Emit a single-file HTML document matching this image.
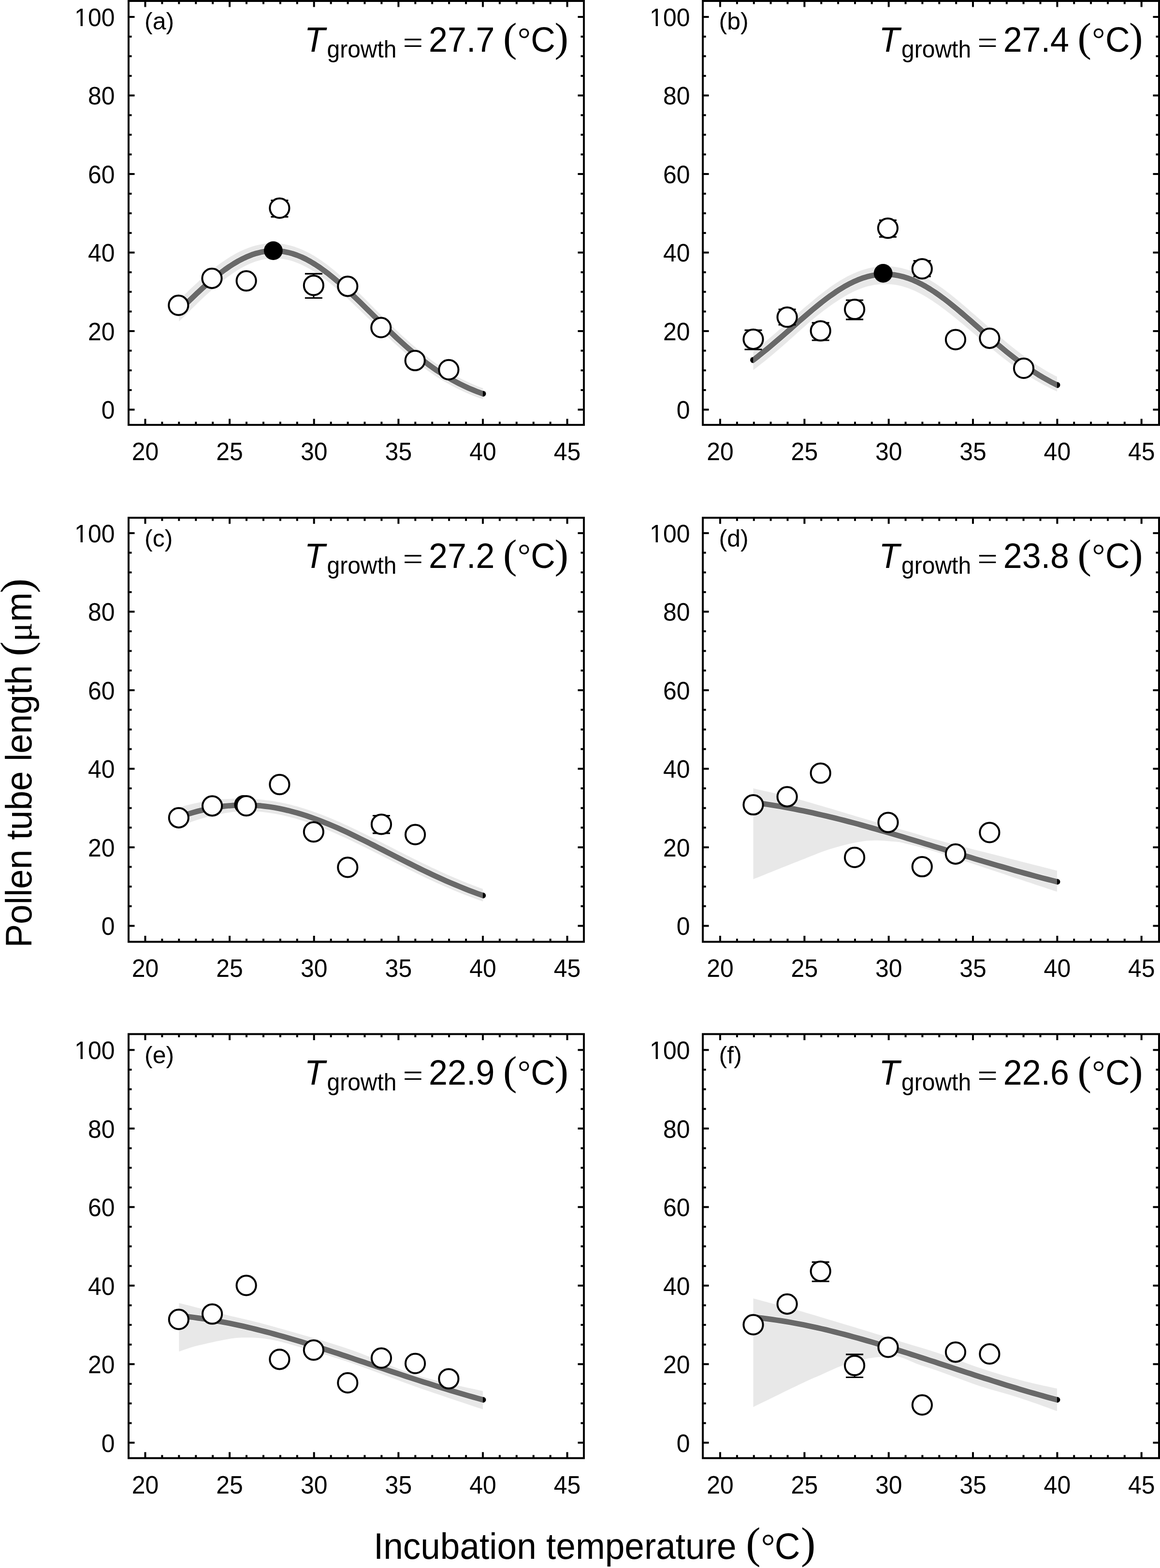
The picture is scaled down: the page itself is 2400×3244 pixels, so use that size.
<!DOCTYPE html><html><head><meta charset="utf-8"><style>html,body{margin:0;padding:0;background:#fff}svg{display:block}</style></head><body><svg width="2400" height="3244" viewBox="0 0 2400 3244">
<style>.t{font-family:&quot;Liberation Sans&quot;,Arial,sans-serif;font-size:50px}.ti{font-family:&quot;Liberation Sans&quot;,Arial,sans-serif;font-size:70px}.sub{font-family:&quot;Liberation Sans&quot;,Arial,sans-serif;font-size:48px}.eq{font-family:&quot;Liberation Serif&quot;,&quot;Times New Roman&quot;,serif;font-size:74px}.par{font-family:&quot;Liberation Serif&quot;,&quot;Times New Roman&quot;,serif;font-size:85.5px}.deg{font-family:&quot;Liberation Serif&quot;,&quot;Times New Roman&quot;,serif;font-size:67px}.ax{font-family:&quot;Liberation Sans&quot;,Arial,sans-serif;font-size:73px}.axp{font-family:&quot;Liberation Serif&quot;,&quot;Times New Roman&quot;,serif;font-size:91px}.axd{font-family:&quot;Liberation Serif&quot;,&quot;Times New Roman&quot;,serif;font-size:72px}.yp{font-family:&quot;Liberation Serif&quot;,&quot;Times New Roman&quot;,serif;font-size:92px}.mu{font-family:&quot;Liberation Serif&quot;,&quot;Times New Roman&quot;,serif;font-size:74px}</style>
<rect width="100%" height="100%" fill="#fff"/>
<path d="M370.3,620.9 L375.6,615.7 L380.9,610.5 L386.1,605.4 L391.4,600.3 L396.7,595.3 L402.0,590.3 L407.3,585.4 L412.6,580.6 L417.8,575.9 L423.1,571.2 L428.4,566.7 L433.7,562.3 L439.0,558.0 L444.3,553.8 L449.5,549.7 L454.8,545.8 L460.1,542.0 L465.4,538.4 L470.7,534.9 L476.0,531.6 L481.2,528.4 L486.5,525.4 L491.8,522.6 L497.1,520.0 L502.4,517.6 L507.7,515.3 L512.9,513.2 L518.2,511.3 L523.5,509.6 L528.8,508.1 L534.1,506.8 L539.4,505.7 L544.6,504.8 L549.9,504.1 L555.2,503.5 L560.5,503.2 L565.8,503.1 L571.1,503.3 L576.3,503.7 L581.6,504.2 L586.9,505.0 L592.2,506.0 L597.5,507.2 L602.8,508.5 L608.0,510.1 L613.3,511.9 L618.6,513.9 L623.9,516.0 L629.2,518.4 L634.5,520.9 L639.7,523.6 L645.0,526.6 L650.3,529.6 L655.6,532.9 L660.9,536.4 L666.2,540.0 L671.4,543.7 L676.7,547.6 L682.0,551.7 L687.3,555.9 L692.6,560.2 L697.9,564.7 L703.1,569.3 L708.4,573.9 L713.7,578.7 L719.0,583.5 L724.3,588.4 L729.6,593.4 L734.8,598.5 L740.1,603.6 L745.4,608.8 L750.7,614.1 L756.0,619.3 L761.3,624.6 L766.5,630.0 L771.8,635.3 L777.1,640.7 L782.4,646.0 L787.7,651.3 L793.0,656.7 L798.2,661.9 L803.5,667.2 L808.8,672.3 L814.1,677.4 L819.4,682.4 L824.7,687.4 L829.9,692.4 L835.2,697.3 L840.5,702.1 L845.8,706.8 L851.1,711.5 L856.4,716.0 L861.6,720.5 L866.9,725.0 L872.2,729.3 L877.5,733.5 L882.8,737.6 L888.1,741.7 L893.3,745.6 L898.6,749.5 L903.9,753.2 L909.2,756.8 L914.5,760.4 L919.8,763.8 L925.0,767.1 L930.3,770.3 L935.6,773.5 L940.9,776.5 L946.2,779.4 L951.5,782.2 L956.7,784.9 L962.0,787.5 L967.3,790.0 L972.6,792.5 L977.9,794.8 L983.2,797.0 L988.4,799.2 L993.7,801.2 L999.0,803.1 L999.0,826.0 L993.7,824.1 L988.4,822.2 L983.2,820.3 L977.9,818.2 L972.6,816.0 L967.3,813.8 L962.0,811.5 L956.7,809.1 L951.5,806.5 L946.2,803.9 L940.9,801.3 L935.6,798.5 L930.3,795.6 L925.0,792.6 L919.8,789.5 L914.5,786.3 L909.2,783.1 L903.9,779.7 L898.6,776.2 L893.3,772.6 L888.1,769.0 L882.8,765.2 L877.5,761.4 L872.2,757.4 L866.9,753.3 L861.6,749.2 L856.4,745.0 L851.1,740.7 L845.8,736.3 L840.5,731.8 L835.2,727.2 L829.9,722.6 L824.7,717.8 L819.4,713.1 L814.1,708.2 L808.8,703.3 L803.5,698.3 L798.2,693.3 L793.0,688.4 L787.7,683.4 L782.4,678.3 L777.1,673.2 L771.8,668.1 L766.5,663.0 L761.3,657.9 L756.0,652.8 L750.7,647.7 L745.4,642.6 L740.1,637.5 L734.8,632.4 L729.6,627.4 L724.3,622.4 L719.0,617.5 L713.7,612.6 L708.4,607.8 L703.1,603.1 L697.9,598.4 L692.6,593.9 L687.3,589.5 L682.0,585.3 L676.7,581.1 L671.4,577.0 L666.2,573.1 L660.9,569.3 L655.6,565.7 L650.3,562.3 L645.0,559.0 L639.7,555.8 L634.5,552.9 L629.2,550.2 L623.9,547.6 L618.6,545.3 L613.3,543.2 L608.0,541.3 L602.8,539.6 L597.5,538.1 L592.2,536.9 L586.9,535.9 L581.6,535.2 L576.3,534.8 L571.1,534.5 L565.8,534.6 L560.5,534.8 L555.2,535.2 L549.9,535.9 L544.6,536.8 L539.4,538.0 L534.1,539.4 L528.8,541.0 L523.5,542.9 L518.2,545.0 L512.9,547.4 L507.7,549.9 L502.4,552.7 L497.1,555.7 L491.8,558.8 L486.5,562.2 L481.2,565.7 L476.0,569.4 L470.7,573.2 L465.4,577.2 L460.1,581.4 L454.8,585.7 L449.5,590.1 L444.3,594.6 L439.0,599.2 L433.7,603.9 L428.4,608.7 L423.1,613.6 L417.8,618.6 L412.6,623.6 L407.3,628.7 L402.0,633.9 L396.7,639.0 L391.4,644.2 L386.1,649.4 L380.9,654.7 L375.6,659.9 L370.3,665.2Z" fill="#e8e8e8"/>
<clipPath id="cpa"><rect x="370.30" y="0" width="628.70" height="3244"/></clipPath>
<g clip-path="url(#cpa)">
<path d="M362.3,650.9 L371.6,641.7 L381.0,632.5 L390.3,623.3 L399.7,614.3 L409.0,605.4 L418.4,596.8 L427.7,588.4 L437.0,580.2 L446.4,572.4 L455.7,565.0 L465.1,558.0 L474.4,551.5 L483.8,545.5 L493.1,540.0 L502.5,535.1 L511.8,530.8 L521.1,527.1 L530.5,524.1 L539.8,521.7 L549.2,520.1 L558.5,519.1 L567.9,518.8 L577.2,519.3 L586.5,520.4 L595.9,522.3 L605.2,524.8 L614.6,528.0 L623.9,531.8 L633.3,536.3 L642.6,541.4 L651.9,547.0 L661.3,553.1 L670.6,559.8 L680.0,566.9 L689.3,574.4 L698.7,582.3 L708.0,590.5 L717.4,599.0 L726.7,607.7 L736.0,616.6 L745.4,625.7 L754.7,634.8 L764.1,644.1 L773.4,653.3 L782.8,662.5 L792.1,671.7 L801.4,680.7 L810.8,689.7 L820.1,698.5 L829.5,707.0 L838.8,715.4 L848.2,723.6 L857.5,731.5 L866.8,739.1 L876.2,746.4 L885.5,753.5 L894.9,760.2 L904.2,766.7 L913.6,772.8 L922.9,778.6 L932.3,784.1 L941.6,789.2 L950.9,794.1 L960.3,798.7 L969.6,803.0 L979.0,806.9 L988.3,810.7 L997.7,814.1 L1007.0,817.3" fill="none" stroke="#fff" stroke-width="13.1" stroke-linejoin="round"/>
<path d="M362.3,650.9 L371.6,641.7 L381.0,632.5 L390.3,623.3 L399.7,614.3 L409.0,605.4 L418.4,596.8 L427.7,588.4 L437.0,580.2 L446.4,572.4 L455.7,565.0 L465.1,558.0 L474.4,551.5 L483.8,545.5 L493.1,540.0 L502.5,535.1 L511.8,530.8 L521.1,527.1 L530.5,524.1 L539.8,521.7 L549.2,520.1 L558.5,519.1 L567.9,518.8 L577.2,519.3 L586.5,520.4 L595.9,522.3 L605.2,524.8 L614.6,528.0 L623.9,531.8 L633.3,536.3 L642.6,541.4 L651.9,547.0 L661.3,553.1 L670.6,559.8 L680.0,566.9 L689.3,574.4 L698.7,582.3 L708.0,590.5 L717.4,599.0 L726.7,607.7 L736.0,616.6 L745.4,625.7 L754.7,634.8 L764.1,644.1 L773.4,653.3 L782.8,662.5 L792.1,671.7 L801.4,680.7 L810.8,689.7 L820.1,698.5 L829.5,707.0 L838.8,715.4 L848.2,723.6 L857.5,731.5 L866.8,739.1 L876.2,746.4 L885.5,753.5 L894.9,760.2 L904.2,766.7 L913.6,772.8 L922.9,778.6 L932.3,784.1 L941.6,789.2 L950.9,794.1 L960.3,798.7 L969.6,803.0 L979.0,806.9 L988.3,810.7 L997.7,814.1 L1007.0,817.3" fill="none" stroke="#696969" stroke-width="11.5" stroke-linejoin="round"/>
</g>
<path d="M370.30,636.72 A6.5,6.30 0 0 0 370.30,649.32 Z" fill="#000"/>
<path d="M999.00,808.48 A6.5,6.09 0 0 1 999.00,820.66 Z" fill="#000"/>
<circle cx="565.4" cy="518.6" r="19.4" fill="#000"/>
<path d="M578.4,414.6 V448.7 M560.4,414.6 H596.4 M560.4,448.7 H596.4" stroke="#000" stroke-width="3.2" fill="none"/>
<path d="M648.9,566.4 V616.5 M630.9,566.4 H666.9 M630.9,616.5 H666.9" stroke="#000" stroke-width="3.2" fill="none"/>
<circle cx="369.3" cy="631.7" r="20.1" fill="#fff" stroke="#000" stroke-width="4"/>
<circle cx="438.5" cy="575.8" r="20.1" fill="#fff" stroke="#000" stroke-width="4"/>
<circle cx="509.6" cy="581.1" r="20.1" fill="#fff" stroke="#000" stroke-width="4"/>
<circle cx="578.4" cy="430.6" r="20.1" fill="#fff" stroke="#000" stroke-width="4"/>
<circle cx="648.9" cy="590.4" r="20.1" fill="#fff" stroke="#000" stroke-width="4"/>
<circle cx="719.3" cy="592.3" r="20.1" fill="#fff" stroke="#000" stroke-width="4"/>
<circle cx="788.3" cy="677.7" r="20.1" fill="#fff" stroke="#000" stroke-width="4"/>
<circle cx="858.7" cy="745.9" r="20.1" fill="#fff" stroke="#000" stroke-width="4"/>
<circle cx="928.4" cy="764.9" r="20.1" fill="#fff" stroke="#000" stroke-width="4"/>
<rect x="266.0" y="2.0" width="942.0" height="877.0" fill="none" stroke="#000" stroke-width="4"/>
<path d="M300.5,2.0V14.5 M300.5,879.0V866.5 M335.4,2.0V8.5 M335.4,879.0V872.5 M370.3,2.0V8.5 M370.3,879.0V872.5 M405.3,2.0V8.5 M405.3,879.0V872.5 M440.2,2.0V8.5 M440.2,879.0V872.5 M475.1,2.0V14.5 M475.1,879.0V866.5 M510.0,2.0V8.5 M510.0,879.0V872.5 M545.0,2.0V8.5 M545.0,879.0V872.5 M579.9,2.0V8.5 M579.9,879.0V872.5 M614.8,2.0V8.5 M614.8,879.0V872.5 M649.7,2.0V14.5 M649.7,879.0V866.5 M684.7,2.0V8.5 M684.7,879.0V872.5 M719.6,2.0V8.5 M719.6,879.0V872.5 M754.5,2.0V8.5 M754.5,879.0V872.5 M789.4,2.0V8.5 M789.4,879.0V872.5 M824.4,2.0V14.5 M824.4,879.0V866.5 M859.3,2.0V8.5 M859.3,879.0V872.5 M894.2,2.0V8.5 M894.2,879.0V872.5 M929.1,2.0V8.5 M929.1,879.0V872.5 M964.1,2.0V8.5 M964.1,879.0V872.5 M999.0,2.0V14.5 M999.0,879.0V866.5 M1033.9,2.0V8.5 M1033.9,879.0V872.5 M1068.8,2.0V8.5 M1068.8,879.0V872.5 M1103.8,2.0V8.5 M1103.8,879.0V872.5 M1138.7,2.0V8.5 M1138.7,879.0V872.5 M1173.6,2.0V14.5 M1173.6,879.0V866.5 M266.0,847.5H278.5 M1208.0,847.5H1195.5 M266.0,806.9H272.5 M1208.0,806.9H1201.5 M266.0,766.3H272.5 M1208.0,766.3H1201.5 M266.0,725.6H272.5 M1208.0,725.6H1201.5 M266.0,685.0H278.5 M1208.0,685.0H1195.5 M266.0,644.4H272.5 M1208.0,644.4H1201.5 M266.0,603.8H272.5 M1208.0,603.8H1201.5 M266.0,563.2H272.5 M1208.0,563.2H1201.5 M266.0,522.5H278.5 M1208.0,522.5H1195.5 M266.0,481.9H272.5 M1208.0,481.9H1201.5 M266.0,441.3H272.5 M1208.0,441.3H1201.5 M266.0,400.7H272.5 M1208.0,400.7H1201.5 M266.0,360.1H278.5 M1208.0,360.1H1195.5 M266.0,319.4H272.5 M1208.0,319.4H1201.5 M266.0,278.8H272.5 M1208.0,278.8H1201.5 M266.0,238.2H272.5 M1208.0,238.2H1201.5 M266.0,197.6H278.5 M1208.0,197.6H1195.5 M266.0,157.0H272.5 M1208.0,157.0H1201.5 M266.0,116.3H272.5 M1208.0,116.3H1201.5 M266.0,75.7H272.5 M1208.0,75.7H1201.5 M266.0,35.1H278.5 M1208.0,35.1H1195.5" stroke="#000" stroke-width="4" fill="none"/>
<text transform="translate(300.5,951.8) scale(1,1.025)" class="t" text-anchor="middle">20</text>
<text transform="translate(475.1,951.8) scale(1,1.025)" class="t" text-anchor="middle">25</text>
<text transform="translate(649.7,951.8) scale(1,1.025)" class="t" text-anchor="middle">30</text>
<text transform="translate(824.4,951.8) scale(1,1.025)" class="t" text-anchor="middle">35</text>
<text transform="translate(999.0,951.8) scale(1,1.025)" class="t" text-anchor="middle">40</text>
<text transform="translate(1173.6,951.8) scale(1,1.025)" class="t" text-anchor="middle">45</text>
<text transform="translate(237.5,866.3) scale(1,1.025)" class="t" text-anchor="end">0</text>
<text transform="translate(237.5,703.8) scale(1,1.025)" class="t" text-anchor="end">20</text>
<text transform="translate(237.5,541.3) scale(1,1.025)" class="t" text-anchor="end">40</text>
<text transform="translate(237.5,378.9) scale(1,1.025)" class="t" text-anchor="end">60</text>
<text transform="translate(237.5,216.4) scale(1,1.025)" class="t" text-anchor="end">80</text>
<text transform="translate(237.5,53.9) scale(1,1.025)" class="t" text-anchor="end">100</text>
<path d="M156.76,49.67 H166.65 V55.10 H156.76 Z M171.07,49.67 H180.57 V55.10 H171.07 Z" fill="#fff"/>
<text x="299.0" y="61.3" class="t">(a)</text>
<text transform="translate(629.8,106.6) scale(1,1.040)" class="ti" font-style="italic">T</text>
<text transform="translate(676.5,118.5) scale(1,1.040)" class="sub">growth</text>
<text transform="translate(833.6,110.9) scale(1,0.920)" class="eq">=</text>
<text transform="translate(887.1,106.5) scale(1,1.025)" class="ti">27.7</text>
<text x="1040.9" y="106.3" class="par">(</text>
<text x="1071.0" y="104.0" class="deg">&#176;</text>
<text transform="translate(1098.3,106.5) scale(1,1.040)" class="ti">C</text>
<text x="1147.5" y="106.3" class="par">)</text>
<path d="M1558.5,727.1 L1563.8,723.0 L1569.1,718.8 L1574.3,714.5 L1579.6,710.2 L1584.9,705.8 L1590.2,701.3 L1595.5,696.8 L1600.8,692.3 L1606.0,687.7 L1611.3,683.1 L1616.6,678.5 L1621.9,673.8 L1627.2,669.1 L1632.4,664.5 L1637.7,659.8 L1643.0,655.2 L1648.3,650.5 L1653.6,645.9 L1658.8,641.4 L1664.1,636.8 L1669.4,632.3 L1674.7,627.9 L1680.0,623.5 L1685.3,619.1 L1690.5,614.8 L1695.8,610.5 L1701.1,606.4 L1706.4,602.3 L1711.7,598.4 L1716.9,594.5 L1722.2,590.8 L1727.5,587.3 L1732.8,583.8 L1738.1,580.6 L1743.4,577.4 L1748.6,574.4 L1753.9,571.6 L1759.2,569.0 L1764.5,566.5 L1769.8,564.2 L1775.0,562.0 L1780.3,560.1 L1785.6,558.3 L1790.9,556.7 L1796.2,555.3 L1801.4,554.0 L1806.7,553.0 L1812.0,552.1 L1817.3,551.4 L1822.6,550.9 L1827.9,550.6 L1833.1,550.6 L1838.4,550.8 L1843.7,551.2 L1849.0,551.8 L1854.3,552.5 L1859.5,553.5 L1864.8,554.6 L1870.1,556.0 L1875.4,557.5 L1880.7,559.1 L1886.0,561.0 L1891.2,563.0 L1896.5,565.3 L1901.8,567.6 L1907.1,570.2 L1912.4,572.9 L1917.6,575.8 L1922.9,578.8 L1928.2,582.0 L1933.5,585.3 L1938.8,588.8 L1944.1,592.4 L1949.3,596.1 L1954.6,600.0 L1959.9,604.0 L1965.2,608.0 L1970.5,612.2 L1975.7,616.5 L1981.0,620.8 L1986.3,625.2 L1991.6,629.7 L1996.9,634.3 L2002.1,638.8 L2007.4,643.4 L2012.7,647.9 L2018.0,652.5 L2023.3,657.2 L2028.6,661.8 L2033.8,666.4 L2039.1,671.1 L2044.4,675.7 L2049.7,680.4 L2055.0,685.0 L2060.2,689.5 L2065.5,694.1 L2070.8,698.6 L2076.1,703.0 L2081.4,707.5 L2086.7,711.8 L2091.9,716.1 L2097.2,720.3 L2102.5,724.5 L2107.8,728.6 L2113.1,732.6 L2118.3,736.5 L2123.6,740.4 L2128.9,744.1 L2134.2,747.8 L2139.5,751.4 L2144.7,754.9 L2150.0,758.3 L2155.3,761.6 L2160.6,764.8 L2165.9,767.9 L2171.2,770.9 L2176.4,773.8 L2181.7,776.7 L2187.0,779.3 L2187.0,809.9 L2181.7,807.4 L2176.4,804.9 L2171.2,802.3 L2165.9,799.6 L2160.6,796.9 L2155.3,794.0 L2150.0,791.1 L2144.7,788.0 L2139.5,784.9 L2134.2,781.7 L2128.9,778.4 L2123.6,775.0 L2118.3,771.5 L2113.1,768.0 L2107.8,764.3 L2102.5,760.6 L2097.2,756.8 L2091.9,753.0 L2086.7,749.0 L2081.4,745.0 L2076.1,740.9 L2070.8,736.8 L2065.5,732.6 L2060.2,728.3 L2055.0,724.0 L2049.7,719.6 L2044.4,715.2 L2039.1,710.8 L2033.8,706.3 L2028.6,701.8 L2023.3,697.3 L2018.0,692.8 L2012.7,688.3 L2007.4,683.7 L2002.1,679.2 L1996.9,674.7 L1991.6,670.3 L1986.3,665.9 L1981.0,661.6 L1975.7,657.3 L1970.5,653.0 L1965.2,648.8 L1959.9,644.7 L1954.6,640.6 L1949.3,636.7 L1944.1,632.8 L1938.8,629.0 L1933.5,625.4 L1928.2,621.8 L1922.9,618.4 L1917.6,615.1 L1912.4,612.0 L1907.1,609.0 L1901.8,606.2 L1896.5,603.6 L1891.2,601.1 L1886.0,598.9 L1880.7,596.8 L1875.4,594.9 L1870.1,593.3 L1864.8,591.8 L1859.5,590.6 L1854.3,589.6 L1849.0,588.8 L1843.7,588.3 L1838.4,588.0 L1833.1,588.0 L1827.9,588.0 L1822.6,588.1 L1817.3,588.4 L1812.0,589.0 L1806.7,589.8 L1801.4,590.9 L1796.2,592.1 L1790.9,593.6 L1785.6,595.3 L1780.3,597.2 L1775.0,599.3 L1769.8,601.6 L1764.5,604.1 L1759.2,606.7 L1753.9,609.6 L1748.6,612.5 L1743.4,615.7 L1738.1,619.0 L1732.8,622.4 L1727.5,625.9 L1722.2,629.5 L1716.9,633.3 L1711.7,637.2 L1706.4,641.1 L1701.1,645.1 L1695.8,649.3 L1690.5,653.4 L1685.3,657.7 L1680.0,661.9 L1674.7,666.6 L1669.4,671.2 L1664.1,675.9 L1658.8,680.6 L1653.6,685.3 L1648.3,690.1 L1643.0,694.8 L1637.7,699.5 L1632.4,704.2 L1627.2,708.9 L1621.9,713.6 L1616.6,718.2 L1611.3,722.8 L1606.0,727.3 L1600.8,731.8 L1595.5,736.2 L1590.2,740.6 L1584.9,744.9 L1579.6,749.2 L1574.3,753.3 L1569.1,757.4 L1563.8,761.5 L1558.5,765.5Z" fill="#e8e8e8"/>
<clipPath id="cpb"><rect x="1558.50" y="0" width="628.50" height="3244"/></clipPath>
<g clip-path="url(#cpb)">
<path d="M1550.5,750.8 L1559.8,743.8 L1569.2,736.6 L1578.5,729.1 L1587.9,721.5 L1597.2,713.7 L1606.5,705.7 L1615.9,697.7 L1625.2,689.5 L1634.6,681.3 L1643.9,673.0 L1653.2,664.8 L1662.6,656.6 L1671.9,648.6 L1681.3,640.7 L1690.6,633.0 L1699.9,625.5 L1709.3,618.3 L1718.6,611.4 L1728.0,604.9 L1737.3,598.8 L1746.7,593.1 L1756.0,587.9 L1765.3,583.3 L1774.7,579.2 L1784.0,575.6 L1793.4,572.7 L1802.7,570.4 L1812.0,568.7 L1821.4,567.7 L1830.7,567.3 L1840.1,567.6 L1849.4,568.5 L1858.7,570.1 L1868.1,572.3 L1877.4,575.2 L1886.8,578.6 L1896.1,582.7 L1905.4,587.3 L1914.8,592.4 L1924.1,598.0 L1933.5,604.0 L1942.8,610.5 L1952.1,617.3 L1961.5,624.5 L1970.8,631.9 L1980.2,639.6 L1989.5,647.5 L1998.8,655.5 L2008.2,663.7 L2017.5,671.9 L2026.9,680.1 L2036.2,688.4 L2045.6,696.5 L2054.9,704.6 L2064.2,712.6 L2073.6,720.4 L2082.9,728.1 L2092.3,735.6 L2101.6,742.8 L2110.9,749.8 L2120.3,756.6 L2129.6,763.0 L2139.0,769.2 L2148.3,775.2 L2157.6,780.8 L2167.0,786.1 L2176.3,791.2 L2185.7,795.9 L2195.0,800.4" fill="none" stroke="#fff" stroke-width="13.1" stroke-linejoin="round"/>
<path d="M1550.5,750.8 L1559.8,743.8 L1569.2,736.6 L1578.5,729.1 L1587.9,721.5 L1597.2,713.7 L1606.5,705.7 L1615.9,697.7 L1625.2,689.5 L1634.6,681.3 L1643.9,673.0 L1653.2,664.8 L1662.6,656.6 L1671.9,648.6 L1681.3,640.7 L1690.6,633.0 L1699.9,625.5 L1709.3,618.3 L1718.6,611.4 L1728.0,604.9 L1737.3,598.8 L1746.7,593.1 L1756.0,587.9 L1765.3,583.3 L1774.7,579.2 L1784.0,575.6 L1793.4,572.7 L1802.7,570.4 L1812.0,568.7 L1821.4,567.7 L1830.7,567.3 L1840.1,567.6 L1849.4,568.5 L1858.7,570.1 L1868.1,572.3 L1877.4,575.2 L1886.8,578.6 L1896.1,582.7 L1905.4,587.3 L1914.8,592.4 L1924.1,598.0 L1933.5,604.0 L1942.8,610.5 L1952.1,617.3 L1961.5,624.5 L1970.8,631.9 L1980.2,639.6 L1989.5,647.5 L1998.8,655.5 L2008.2,663.7 L2017.5,671.9 L2026.9,680.1 L2036.2,688.4 L2045.6,696.5 L2054.9,704.6 L2064.2,712.6 L2073.6,720.4 L2082.9,728.1 L2092.3,735.6 L2101.6,742.8 L2110.9,749.8 L2120.3,756.6 L2129.6,763.0 L2139.0,769.2 L2148.3,775.2 L2157.6,780.8 L2167.0,786.1 L2176.3,791.2 L2185.7,795.9 L2195.0,800.4" fill="none" stroke="#696969" stroke-width="11.5" stroke-linejoin="round"/>
</g>
<path d="M1558.50,738.50 A6.5,6.30 0 0 0 1558.50,751.10 Z" fill="#000"/>
<path d="M2187.00,790.27 A6.5,6.30 0 0 1 2187.00,802.87 Z" fill="#000"/>
<circle cx="1827.2" cy="565.4" r="19.4" fill="#000"/>
<path d="M1558.5,683.1 V723.0 M1540.5,683.1 H1576.5 M1540.5,723.0 H1576.5" stroke="#000" stroke-width="3.2" fill="none"/>
<path d="M1628.6,640.0 V672.0 M1610.6,640.0 H1646.6 M1610.6,672.0 H1646.6" stroke="#000" stroke-width="3.2" fill="none"/>
<path d="M1697.7,667.8 V704.0 M1679.7,667.8 H1715.7 M1679.7,704.0 H1715.7" stroke="#000" stroke-width="3.2" fill="none"/>
<path d="M1768.1,621.0 V660.9 M1750.1,621.0 H1786.1 M1750.1,660.9 H1786.1" stroke="#000" stroke-width="3.2" fill="none"/>
<path d="M1836.9,455.6 V490.2 M1818.9,455.6 H1854.9 M1818.9,490.2 H1854.9" stroke="#000" stroke-width="3.2" fill="none"/>
<path d="M1907.8,539.7 V571.8 M1889.8,539.7 H1925.8 M1889.8,571.8 H1925.8" stroke="#000" stroke-width="3.2" fill="none"/>
<circle cx="1558.5" cy="701.8" r="20.1" fill="#fff" stroke="#000" stroke-width="4"/>
<circle cx="1628.6" cy="656.1" r="20.1" fill="#fff" stroke="#000" stroke-width="4"/>
<circle cx="1697.7" cy="684.5" r="20.1" fill="#fff" stroke="#000" stroke-width="4"/>
<circle cx="1768.1" cy="640.0" r="20.1" fill="#fff" stroke="#000" stroke-width="4"/>
<circle cx="1836.9" cy="472.1" r="20.1" fill="#fff" stroke="#000" stroke-width="4"/>
<circle cx="1907.8" cy="556.2" r="20.1" fill="#fff" stroke="#000" stroke-width="4"/>
<circle cx="1977.0" cy="702.6" r="20.1" fill="#fff" stroke="#000" stroke-width="4"/>
<circle cx="2047.4" cy="699.8" r="20.1" fill="#fff" stroke="#000" stroke-width="4"/>
<circle cx="2118.0" cy="761.9" r="20.1" fill="#fff" stroke="#000" stroke-width="4"/>
<rect x="1454.1" y="2.0" width="943.9" height="877.0" fill="none" stroke="#000" stroke-width="4"/>
<path d="M1490.0,2.0V14.5 M1490.0,879.0V866.5 M1524.9,2.0V8.5 M1524.9,879.0V872.5 M1559.8,2.0V8.5 M1559.8,879.0V872.5 M1594.6,2.0V8.5 M1594.6,879.0V872.5 M1629.5,2.0V8.5 M1629.5,879.0V872.5 M1664.4,2.0V14.5 M1664.4,879.0V866.5 M1699.2,2.0V8.5 M1699.2,879.0V872.5 M1734.1,2.0V8.5 M1734.1,879.0V872.5 M1769.0,2.0V8.5 M1769.0,879.0V872.5 M1803.8,2.0V8.5 M1803.8,879.0V872.5 M1838.7,2.0V14.5 M1838.7,879.0V866.5 M1873.6,2.0V8.5 M1873.6,879.0V872.5 M1908.4,2.0V8.5 M1908.4,879.0V872.5 M1943.3,2.0V8.5 M1943.3,879.0V872.5 M1978.2,2.0V8.5 M1978.2,879.0V872.5 M2013.0,2.0V14.5 M2013.0,879.0V866.5 M2047.9,2.0V8.5 M2047.9,879.0V872.5 M2082.8,2.0V8.5 M2082.8,879.0V872.5 M2117.6,2.0V8.5 M2117.6,879.0V872.5 M2152.5,2.0V8.5 M2152.5,879.0V872.5 M2187.4,2.0V14.5 M2187.4,879.0V866.5 M2222.2,2.0V8.5 M2222.2,879.0V872.5 M2257.1,2.0V8.5 M2257.1,879.0V872.5 M2292.0,2.0V8.5 M2292.0,879.0V872.5 M2326.8,2.0V8.5 M2326.8,879.0V872.5 M2361.7,2.0V14.5 M2361.7,879.0V866.5 M1454.1,847.5H1466.6 M2398.0,847.5H2385.5 M1454.1,806.9H1460.6 M2398.0,806.9H2391.5 M1454.1,766.3H1460.6 M2398.0,766.3H2391.5 M1454.1,725.6H1460.6 M2398.0,725.6H2391.5 M1454.1,685.0H1466.6 M2398.0,685.0H2385.5 M1454.1,644.4H1460.6 M2398.0,644.4H2391.5 M1454.1,603.8H1460.6 M2398.0,603.8H2391.5 M1454.1,563.2H1460.6 M2398.0,563.2H2391.5 M1454.1,522.5H1466.6 M2398.0,522.5H2385.5 M1454.1,481.9H1460.6 M2398.0,481.9H2391.5 M1454.1,441.3H1460.6 M2398.0,441.3H2391.5 M1454.1,400.7H1460.6 M2398.0,400.7H2391.5 M1454.1,360.1H1466.6 M2398.0,360.1H2385.5 M1454.1,319.4H1460.6 M2398.0,319.4H2391.5 M1454.1,278.8H1460.6 M2398.0,278.8H2391.5 M1454.1,238.2H1460.6 M2398.0,238.2H2391.5 M1454.1,197.6H1466.6 M2398.0,197.6H2385.5 M1454.1,157.0H1460.6 M2398.0,157.0H2391.5 M1454.1,116.3H1460.6 M2398.0,116.3H2391.5 M1454.1,75.7H1460.6 M2398.0,75.7H2391.5 M1454.1,35.1H1466.6 M2398.0,35.1H2385.5" stroke="#000" stroke-width="4" fill="none"/>
<text transform="translate(1490.0,951.8) scale(1,1.025)" class="t" text-anchor="middle">20</text>
<text transform="translate(1664.4,951.8) scale(1,1.025)" class="t" text-anchor="middle">25</text>
<text transform="translate(1838.7,951.8) scale(1,1.025)" class="t" text-anchor="middle">30</text>
<text transform="translate(2013.0,951.8) scale(1,1.025)" class="t" text-anchor="middle">35</text>
<text transform="translate(2187.4,951.8) scale(1,1.025)" class="t" text-anchor="middle">40</text>
<text transform="translate(2361.7,951.8) scale(1,1.025)" class="t" text-anchor="middle">45</text>
<text transform="translate(1427.5,866.3) scale(1,1.025)" class="t" text-anchor="end">0</text>
<text transform="translate(1427.5,703.8) scale(1,1.025)" class="t" text-anchor="end">20</text>
<text transform="translate(1427.5,541.3) scale(1,1.025)" class="t" text-anchor="end">40</text>
<text transform="translate(1427.5,378.9) scale(1,1.025)" class="t" text-anchor="end">60</text>
<text transform="translate(1427.5,216.4) scale(1,1.025)" class="t" text-anchor="end">80</text>
<text transform="translate(1427.5,53.9) scale(1,1.025)" class="t" text-anchor="end">100</text>
<path d="M1346.76,49.67 H1356.65 V55.10 H1346.76 Z M1361.07,49.67 H1370.57 V55.10 H1361.07 Z" fill="#fff"/>
<text x="1487.6" y="61.3" class="t">(b)</text>
<text transform="translate(1818.4,106.6) scale(1,1.040)" class="ti" font-style="italic">T</text>
<text transform="translate(1865.1,118.5) scale(1,1.040)" class="sub">growth</text>
<text transform="translate(2022.2,110.9) scale(1,0.920)" class="eq">=</text>
<text transform="translate(2075.8,106.5) scale(1,1.025)" class="ti">27.4</text>
<text x="2229.5" y="106.3" class="par">(</text>
<text x="2259.6" y="104.0" class="deg">&#176;</text>
<text transform="translate(2286.9,106.5) scale(1,1.040)" class="ti">C</text>
<text x="2336.1" y="106.3" class="par">)</text>
<path d="M370.3,1670.4 L375.6,1668.9 L380.9,1667.4 L386.1,1666.1 L391.4,1664.8 L396.7,1663.5 L402.0,1662.3 L407.3,1661.2 L412.6,1660.1 L417.8,1659.1 L423.1,1658.2 L428.4,1657.3 L433.7,1656.5 L439.0,1655.8 L444.3,1655.1 L449.5,1654.5 L454.8,1654.0 L460.1,1653.6 L465.4,1653.2 L470.7,1652.9 L476.0,1652.7 L481.2,1652.5 L486.5,1652.4 L491.8,1652.4 L497.1,1652.5 L502.4,1652.6 L507.7,1652.7 L512.9,1652.8 L518.2,1653.0 L523.5,1653.2 L528.8,1653.5 L534.1,1653.8 L539.4,1654.3 L544.6,1654.8 L549.9,1655.4 L555.2,1656.1 L560.5,1656.8 L565.8,1657.6 L571.1,1658.5 L576.3,1659.5 L581.6,1660.5 L586.9,1661.6 L592.2,1662.8 L597.5,1664.0 L602.8,1665.3 L608.0,1666.7 L613.3,1668.1 L618.6,1669.6 L623.9,1671.2 L629.2,1672.8 L634.5,1674.5 L639.7,1676.2 L645.0,1678.0 L650.3,1679.9 L655.6,1681.8 L660.9,1683.8 L666.2,1685.8 L671.4,1687.8 L676.7,1689.9 L682.0,1692.1 L687.3,1694.3 L692.6,1696.5 L697.9,1698.8 L703.1,1701.1 L708.4,1703.5 L713.7,1705.9 L719.0,1708.3 L724.3,1710.8 L729.6,1713.2 L734.8,1715.8 L740.1,1718.3 L745.4,1720.9 L750.7,1723.4 L756.0,1726.0 L761.3,1728.7 L766.5,1731.3 L771.8,1734.0 L777.1,1736.6 L782.4,1739.3 L787.7,1742.0 L793.0,1744.7 L798.2,1747.4 L803.5,1750.1 L808.8,1752.8 L814.1,1755.5 L819.4,1758.2 L824.7,1760.9 L829.9,1763.5 L835.2,1766.2 L840.5,1768.9 L845.8,1771.6 L851.1,1774.2 L856.4,1776.9 L861.6,1779.5 L866.9,1782.1 L872.2,1784.7 L877.5,1787.3 L882.8,1789.8 L888.1,1792.3 L893.3,1794.9 L898.6,1797.3 L903.9,1799.8 L909.2,1802.3 L914.5,1804.7 L919.8,1807.1 L925.0,1809.4 L930.3,1811.7 L935.6,1814.0 L940.9,1816.3 L946.2,1818.6 L951.5,1820.8 L956.7,1822.9 L962.0,1825.1 L967.3,1827.2 L972.6,1829.3 L977.9,1831.3 L983.2,1833.3 L988.4,1835.3 L993.7,1837.2 L999.0,1839.1 L999.0,1864.9 L993.7,1863.1 L988.4,1861.2 L983.2,1859.3 L977.9,1857.3 L972.6,1855.3 L967.3,1853.3 L962.0,1851.3 L956.7,1849.2 L951.5,1847.1 L946.2,1844.9 L940.9,1842.7 L935.6,1840.5 L930.3,1838.3 L925.0,1836.0 L919.8,1833.7 L914.5,1831.4 L909.2,1829.0 L903.9,1826.7 L898.6,1824.2 L893.3,1821.8 L888.1,1819.4 L882.8,1816.9 L877.5,1814.4 L872.2,1811.8 L866.9,1809.3 L861.6,1806.7 L856.4,1804.1 L851.1,1801.5 L845.8,1798.9 L840.5,1796.3 L835.2,1793.6 L829.9,1791.0 L824.7,1788.3 L819.4,1785.6 L814.1,1782.9 L808.8,1780.3 L803.5,1777.6 L798.2,1774.9 L793.0,1772.2 L787.7,1769.5 L782.4,1766.8 L777.1,1764.2 L771.8,1761.5 L766.5,1758.8 L761.3,1756.2 L756.0,1753.5 L750.7,1750.9 L745.4,1748.3 L740.1,1745.7 L734.8,1743.2 L729.6,1740.6 L724.3,1738.1 L719.0,1735.6 L713.7,1733.1 L708.4,1730.7 L703.1,1728.3 L697.9,1725.9 L692.6,1723.6 L687.3,1721.3 L682.0,1719.0 L676.7,1716.8 L671.4,1714.6 L666.2,1712.5 L660.9,1710.4 L655.6,1708.4 L650.3,1706.4 L645.0,1704.5 L639.7,1702.6 L634.5,1700.8 L629.2,1699.0 L623.9,1697.3 L618.6,1695.7 L613.3,1694.1 L608.0,1692.6 L602.8,1691.2 L597.5,1689.8 L592.2,1688.5 L586.9,1687.3 L581.6,1686.1 L576.3,1685.1 L571.1,1684.0 L565.8,1683.1 L560.5,1682.3 L555.2,1681.5 L549.9,1680.8 L544.6,1680.1 L539.4,1679.6 L534.1,1679.1 L528.8,1678.8 L523.5,1678.5 L518.2,1678.2 L512.9,1678.1 L507.7,1678.0 L502.4,1678.2 L497.1,1678.5 L491.8,1678.9 L486.5,1679.4 L481.2,1680.0 L476.0,1680.7 L470.7,1681.4 L465.4,1682.3 L460.1,1683.2 L454.8,1684.1 L449.5,1685.2 L444.3,1686.4 L439.0,1687.6 L433.7,1688.9 L428.4,1690.3 L423.1,1691.7 L417.8,1693.2 L412.6,1694.8 L407.3,1696.5 L402.0,1698.2 L396.7,1700.1 L391.4,1701.9 L386.1,1703.9 L380.9,1705.9 L375.6,1707.9 L370.3,1710.0Z" fill="#e8e8e8"/>
<clipPath id="cpc"><rect x="370.30" y="0" width="628.70" height="3244"/></clipPath>
<g clip-path="url(#cpc)">
<path d="M362.3,1693.0 L371.6,1689.7 L381.0,1686.6 L390.3,1683.7 L399.7,1681.0 L409.0,1678.4 L418.4,1676.1 L427.7,1674.0 L437.0,1672.1 L446.4,1670.4 L455.7,1669.0 L465.1,1667.8 L474.4,1666.9 L483.8,1666.2 L493.1,1665.7 L502.5,1665.5 L511.8,1665.5 L521.1,1665.8 L530.5,1666.4 L539.8,1667.1 L549.2,1668.2 L558.5,1669.4 L567.9,1670.9 L577.2,1672.6 L586.5,1674.6 L595.9,1676.8 L605.2,1679.2 L614.6,1681.8 L623.9,1684.6 L633.3,1687.5 L642.6,1690.7 L651.9,1694.1 L661.3,1697.6 L670.6,1701.3 L680.0,1705.1 L689.3,1709.0 L698.7,1713.1 L708.0,1717.3 L717.4,1721.6 L726.7,1726.0 L736.0,1730.5 L745.4,1735.1 L754.7,1739.7 L764.1,1744.3 L773.4,1749.0 L782.8,1753.8 L792.1,1758.5 L801.4,1763.3 L810.8,1768.1 L820.1,1772.9 L829.5,1777.6 L838.8,1782.3 L848.2,1787.0 L857.5,1791.7 L866.8,1796.2 L876.2,1800.8 L885.5,1805.3 L894.9,1809.7 L904.2,1814.0 L913.6,1818.2 L922.9,1822.4 L932.3,1826.5 L941.6,1830.4 L950.9,1834.3 L960.3,1838.1 L969.6,1841.8 L979.0,1845.4 L988.3,1848.8 L997.7,1852.2 L1007.0,1855.4" fill="none" stroke="#fff" stroke-width="13.1" stroke-linejoin="round"/>
<path d="M362.3,1693.0 L371.6,1689.7 L381.0,1686.6 L390.3,1683.7 L399.7,1681.0 L409.0,1678.4 L418.4,1676.1 L427.7,1674.0 L437.0,1672.1 L446.4,1670.4 L455.7,1669.0 L465.1,1667.8 L474.4,1666.9 L483.8,1666.2 L493.1,1665.7 L502.5,1665.5 L511.8,1665.5 L521.1,1665.8 L530.5,1666.4 L539.8,1667.1 L549.2,1668.2 L558.5,1669.4 L567.9,1670.9 L577.2,1672.6 L586.5,1674.6 L595.9,1676.8 L605.2,1679.2 L614.6,1681.8 L623.9,1684.6 L633.3,1687.5 L642.6,1690.7 L651.9,1694.1 L661.3,1697.6 L670.6,1701.3 L680.0,1705.1 L689.3,1709.0 L698.7,1713.1 L708.0,1717.3 L717.4,1721.6 L726.7,1726.0 L736.0,1730.5 L745.4,1735.1 L754.7,1739.7 L764.1,1744.3 L773.4,1749.0 L782.8,1753.8 L792.1,1758.5 L801.4,1763.3 L810.8,1768.1 L820.1,1772.9 L829.5,1777.6 L838.8,1782.3 L848.2,1787.0 L857.5,1791.7 L866.8,1796.2 L876.2,1800.8 L885.5,1805.3 L894.9,1809.7 L904.2,1814.0 L913.6,1818.2 L922.9,1822.4 L932.3,1826.5 L941.6,1830.4 L950.9,1834.3 L960.3,1838.1 L969.6,1841.8 L979.0,1845.4 L988.3,1848.8 L997.7,1852.2 L1007.0,1855.4" fill="none" stroke="#696969" stroke-width="11.5" stroke-linejoin="round"/>
</g>
<path d="M370.30,1684.12 A6.5,6.09 0 0 0 370.30,1696.29 Z" fill="#000"/>
<path d="M999.00,1846.56 A6.5,6.10 0 0 1 999.00,1858.75 Z" fill="#000"/>
<circle cx="503.8" cy="1664.5" r="19.4" fill="#000"/>
<path d="M789.0,1687.5 V1723.9 M771.0,1687.5 H807.0 M771.0,1723.9 H807.0" stroke="#000" stroke-width="3.2" fill="none"/>
<circle cx="369.8" cy="1691.8" r="20.1" fill="#fff" stroke="#000" stroke-width="4"/>
<circle cx="439.1" cy="1667.3" r="20.1" fill="#fff" stroke="#000" stroke-width="4"/>
<circle cx="509.6" cy="1667.1" r="20.1" fill="#fff" stroke="#000" stroke-width="4"/>
<circle cx="578.4" cy="1623.1" r="20.1" fill="#fff" stroke="#000" stroke-width="4"/>
<circle cx="648.9" cy="1721.1" r="20.1" fill="#fff" stroke="#000" stroke-width="4"/>
<circle cx="719.3" cy="1794.4" r="20.1" fill="#fff" stroke="#000" stroke-width="4"/>
<circle cx="789.0" cy="1705.4" r="20.1" fill="#fff" stroke="#000" stroke-width="4"/>
<circle cx="859.1" cy="1726.7" r="20.1" fill="#fff" stroke="#000" stroke-width="4"/>
<rect x="266.0" y="1071.2" width="942.0" height="877.3" fill="none" stroke="#000" stroke-width="4"/>
<path d="M300.5,1071.2V1083.7 M300.5,1948.5V1936.0 M335.4,1071.2V1077.7 M335.4,1948.5V1942.0 M370.3,1071.2V1077.7 M370.3,1948.5V1942.0 M405.3,1071.2V1077.7 M405.3,1948.5V1942.0 M440.2,1071.2V1077.7 M440.2,1948.5V1942.0 M475.1,1071.2V1083.7 M475.1,1948.5V1936.0 M510.0,1071.2V1077.7 M510.0,1948.5V1942.0 M545.0,1071.2V1077.7 M545.0,1948.5V1942.0 M579.9,1071.2V1077.7 M579.9,1948.5V1942.0 M614.8,1071.2V1077.7 M614.8,1948.5V1942.0 M649.7,1071.2V1083.7 M649.7,1948.5V1936.0 M684.7,1071.2V1077.7 M684.7,1948.5V1942.0 M719.6,1071.2V1077.7 M719.6,1948.5V1942.0 M754.5,1071.2V1077.7 M754.5,1948.5V1942.0 M789.4,1071.2V1077.7 M789.4,1948.5V1942.0 M824.4,1071.2V1083.7 M824.4,1948.5V1936.0 M859.3,1071.2V1077.7 M859.3,1948.5V1942.0 M894.2,1071.2V1077.7 M894.2,1948.5V1942.0 M929.1,1071.2V1077.7 M929.1,1948.5V1942.0 M964.1,1071.2V1077.7 M964.1,1948.5V1942.0 M999.0,1071.2V1083.7 M999.0,1948.5V1936.0 M1033.9,1071.2V1077.7 M1033.9,1948.5V1942.0 M1068.8,1071.2V1077.7 M1068.8,1948.5V1942.0 M1103.8,1071.2V1077.7 M1103.8,1948.5V1942.0 M1138.7,1071.2V1077.7 M1138.7,1948.5V1942.0 M1173.6,1071.2V1083.7 M1173.6,1948.5V1936.0 M266.0,1915.4H278.5 M1208.0,1915.4H1195.5 M266.0,1874.8H272.5 M1208.0,1874.8H1201.5 M266.0,1834.2H272.5 M1208.0,1834.2H1201.5 M266.0,1793.5H272.5 M1208.0,1793.5H1201.5 M266.0,1752.9H278.5 M1208.0,1752.9H1195.5 M266.0,1712.3H272.5 M1208.0,1712.3H1201.5 M266.0,1671.7H272.5 M1208.0,1671.7H1201.5 M266.0,1631.1H272.5 M1208.0,1631.1H1201.5 M266.0,1590.4H278.5 M1208.0,1590.4H1195.5 M266.0,1549.8H272.5 M1208.0,1549.8H1201.5 M266.0,1509.2H272.5 M1208.0,1509.2H1201.5 M266.0,1468.6H272.5 M1208.0,1468.6H1201.5 M266.0,1428.0H278.5 M1208.0,1428.0H1195.5 M266.0,1387.3H272.5 M1208.0,1387.3H1201.5 M266.0,1346.7H272.5 M1208.0,1346.7H1201.5 M266.0,1306.1H272.5 M1208.0,1306.1H1201.5 M266.0,1265.5H278.5 M1208.0,1265.5H1195.5 M266.0,1224.9H272.5 M1208.0,1224.9H1201.5 M266.0,1184.2H272.5 M1208.0,1184.2H1201.5 M266.0,1143.6H272.5 M1208.0,1143.6H1201.5 M266.0,1103.0H278.5 M1208.0,1103.0H1195.5" stroke="#000" stroke-width="4" fill="none"/>
<text transform="translate(300.5,2021.3) scale(1,1.025)" class="t" text-anchor="middle">20</text>
<text transform="translate(475.1,2021.3) scale(1,1.025)" class="t" text-anchor="middle">25</text>
<text transform="translate(649.7,2021.3) scale(1,1.025)" class="t" text-anchor="middle">30</text>
<text transform="translate(824.4,2021.3) scale(1,1.025)" class="t" text-anchor="middle">35</text>
<text transform="translate(999.0,2021.3) scale(1,1.025)" class="t" text-anchor="middle">40</text>
<text transform="translate(1173.6,2021.3) scale(1,1.025)" class="t" text-anchor="middle">45</text>
<text transform="translate(237.5,1934.2) scale(1,1.025)" class="t" text-anchor="end">0</text>
<text transform="translate(237.5,1771.7) scale(1,1.025)" class="t" text-anchor="end">20</text>
<text transform="translate(237.5,1609.2) scale(1,1.025)" class="t" text-anchor="end">40</text>
<text transform="translate(237.5,1446.8) scale(1,1.025)" class="t" text-anchor="end">60</text>
<text transform="translate(237.5,1284.3) scale(1,1.025)" class="t" text-anchor="end">80</text>
<text transform="translate(237.5,1121.8) scale(1,1.025)" class="t" text-anchor="end">100</text>
<path d="M156.76,1117.57 H166.65 V1123.00 H156.76 Z M171.07,1117.57 H180.57 V1123.00 H171.07 Z" fill="#fff"/>
<text x="299.0" y="1131.3" class="t">(c)</text>
<text transform="translate(629.8,1174.9) scale(1,1.040)" class="ti" font-style="italic">T</text>
<text transform="translate(676.5,1186.8) scale(1,1.040)" class="sub">growth</text>
<text transform="translate(833.6,1179.2) scale(1,0.920)" class="eq">=</text>
<text transform="translate(887.1,1174.8) scale(1,1.025)" class="ti">27.2</text>
<text x="1040.9" y="1174.6" class="par">(</text>
<text x="1071.0" y="1172.3" class="deg">&#176;</text>
<text transform="translate(1098.3,1174.8) scale(1,1.040)" class="ti">C</text>
<text x="1147.5" y="1174.6" class="par">)</text>
<path d="M1558.5,1631.0 C1574.7,1635.0 1614.6,1643.3 1655.9,1654.7 C1697.2,1666.1 1769.0,1688.2 1806.3,1699.2 C1843.6,1710.2 1854.9,1713.4 1880.0,1720.6 C1905.1,1727.8 1905.5,1729.0 1956.7,1742.4 C2007.9,1755.9 2148.6,1791.5 2187.0,1801.3 L2187.0,1844.8 C2148.6,1832.1 2007.9,1785.1 1956.7,1768.8 C1905.5,1752.5 1898.1,1751.4 1880.0,1746.8 C1861.9,1742.2 1862.6,1742.2 1848.0,1741.0 C1833.4,1739.8 1813.3,1737.3 1792.4,1739.6 C1771.5,1741.9 1745.5,1748.3 1722.8,1755.0 C1700.0,1761.7 1683.3,1769.3 1655.9,1780.0 C1628.5,1790.7 1574.7,1812.5 1558.5,1819.0Z" fill="#e8e8e8"/>
<clipPath id="cpd"><rect x="1558.50" y="0" width="628.50" height="3244"/></clipPath>
<g clip-path="url(#cpd)">
<path d="M1550.5,1658.9 L1559.8,1660.1 L1569.2,1661.4 L1578.5,1662.7 L1587.9,1664.1 L1597.2,1665.6 L1606.5,1667.1 L1615.9,1668.7 L1625.2,1670.4 L1634.6,1672.1 L1643.9,1673.9 L1653.2,1675.8 L1662.6,1677.7 L1671.9,1679.7 L1681.3,1681.7 L1690.6,1683.8 L1699.9,1686.0 L1709.3,1688.2 L1718.6,1690.4 L1728.0,1692.7 L1737.3,1695.0 L1746.7,1697.4 L1756.0,1699.9 L1765.3,1702.3 L1774.7,1704.8 L1784.0,1707.4 L1793.4,1710.0 L1802.7,1712.6 L1812.0,1715.2 L1821.4,1717.9 L1830.7,1720.6 L1840.1,1723.3 L1849.4,1726.0 L1858.7,1728.8 L1868.1,1731.6 L1877.4,1734.4 L1886.8,1737.2 L1896.1,1740.0 L1905.4,1742.8 L1914.8,1745.7 L1924.1,1748.5 L1933.5,1751.4 L1942.8,1754.2 L1952.1,1757.1 L1961.5,1759.9 L1970.8,1762.7 L1980.2,1765.6 L1989.5,1768.4 L1998.8,1771.2 L2008.2,1774.1 L2017.5,1776.9 L2026.9,1779.7 L2036.2,1782.4 L2045.6,1785.2 L2054.9,1787.9 L2064.2,1790.7 L2073.6,1793.4 L2082.9,1796.1 L2092.3,1798.7 L2101.6,1801.4 L2110.9,1804.0 L2120.3,1806.6 L2129.6,1809.1 L2139.0,1811.7 L2148.3,1814.2 L2157.6,1816.7 L2167.0,1819.1 L2176.3,1821.5 L2185.7,1823.9 L2195.0,1826.3" fill="none" stroke="#fff" stroke-width="13.1" stroke-linejoin="round"/>
<path d="M1550.5,1658.9 L1559.8,1660.1 L1569.2,1661.4 L1578.5,1662.7 L1587.9,1664.1 L1597.2,1665.6 L1606.5,1667.1 L1615.9,1668.7 L1625.2,1670.4 L1634.6,1672.1 L1643.9,1673.9 L1653.2,1675.8 L1662.6,1677.7 L1671.9,1679.7 L1681.3,1681.7 L1690.6,1683.8 L1699.9,1686.0 L1709.3,1688.2 L1718.6,1690.4 L1728.0,1692.7 L1737.3,1695.0 L1746.7,1697.4 L1756.0,1699.9 L1765.3,1702.3 L1774.7,1704.8 L1784.0,1707.4 L1793.4,1710.0 L1802.7,1712.6 L1812.0,1715.2 L1821.4,1717.9 L1830.7,1720.6 L1840.1,1723.3 L1849.4,1726.0 L1858.7,1728.8 L1868.1,1731.6 L1877.4,1734.4 L1886.8,1737.2 L1896.1,1740.0 L1905.4,1742.8 L1914.8,1745.7 L1924.1,1748.5 L1933.5,1751.4 L1942.8,1754.2 L1952.1,1757.1 L1961.5,1759.9 L1970.8,1762.7 L1980.2,1765.6 L1989.5,1768.4 L1998.8,1771.2 L2008.2,1774.1 L2017.5,1776.9 L2026.9,1779.7 L2036.2,1782.4 L2045.6,1785.2 L2054.9,1787.9 L2064.2,1790.7 L2073.6,1793.4 L2082.9,1796.1 L2092.3,1798.7 L2101.6,1801.4 L2110.9,1804.0 L2120.3,1806.6 L2129.6,1809.1 L2139.0,1811.7 L2148.3,1814.2 L2157.6,1816.7 L2167.0,1819.1 L2176.3,1821.5 L2185.7,1823.9 L2195.0,1826.3" fill="none" stroke="#696969" stroke-width="11.5" stroke-linejoin="round"/>
</g>
<path d="M1558.50,1654.15 A6.5,5.80 0 0 0 1558.50,1665.74 Z" fill="#000"/>
<path d="M2187.00,1818.31 A6.5,5.93 0 0 1 2187.00,1830.17 Z" fill="#000"/>
<circle cx="1558.5" cy="1665.0" r="20.1" fill="#fff" stroke="#000" stroke-width="4"/>
<circle cx="1628.6" cy="1648.3" r="20.1" fill="#fff" stroke="#000" stroke-width="4"/>
<circle cx="1697.7" cy="1599.5" r="20.1" fill="#fff" stroke="#000" stroke-width="4"/>
<circle cx="1768.1" cy="1773.9" r="20.1" fill="#fff" stroke="#000" stroke-width="4"/>
<circle cx="1837.5" cy="1701.5" r="20.1" fill="#fff" stroke="#000" stroke-width="4"/>
<circle cx="1907.8" cy="1793.0" r="20.1" fill="#fff" stroke="#000" stroke-width="4"/>
<circle cx="1977.0" cy="1766.8" r="20.1" fill="#fff" stroke="#000" stroke-width="4"/>
<circle cx="2047.4" cy="1722.4" r="20.1" fill="#fff" stroke="#000" stroke-width="4"/>
<rect x="1454.1" y="1071.2" width="943.9" height="877.3" fill="none" stroke="#000" stroke-width="4"/>
<path d="M1490.0,1071.2V1083.7 M1490.0,1948.5V1936.0 M1524.9,1071.2V1077.7 M1524.9,1948.5V1942.0 M1559.8,1071.2V1077.7 M1559.8,1948.5V1942.0 M1594.6,1071.2V1077.7 M1594.6,1948.5V1942.0 M1629.5,1071.2V1077.7 M1629.5,1948.5V1942.0 M1664.4,1071.2V1083.7 M1664.4,1948.5V1936.0 M1699.2,1071.2V1077.7 M1699.2,1948.5V1942.0 M1734.1,1071.2V1077.7 M1734.1,1948.5V1942.0 M1769.0,1071.2V1077.7 M1769.0,1948.5V1942.0 M1803.8,1071.2V1077.7 M1803.8,1948.5V1942.0 M1838.7,1071.2V1083.7 M1838.7,1948.5V1936.0 M1873.6,1071.2V1077.7 M1873.6,1948.5V1942.0 M1908.4,1071.2V1077.7 M1908.4,1948.5V1942.0 M1943.3,1071.2V1077.7 M1943.3,1948.5V1942.0 M1978.2,1071.2V1077.7 M1978.2,1948.5V1942.0 M2013.0,1071.2V1083.7 M2013.0,1948.5V1936.0 M2047.9,1071.2V1077.7 M2047.9,1948.5V1942.0 M2082.8,1071.2V1077.7 M2082.8,1948.5V1942.0 M2117.6,1071.2V1077.7 M2117.6,1948.5V1942.0 M2152.5,1071.2V1077.7 M2152.5,1948.5V1942.0 M2187.4,1071.2V1083.7 M2187.4,1948.5V1936.0 M2222.2,1071.2V1077.7 M2222.2,1948.5V1942.0 M2257.1,1071.2V1077.7 M2257.1,1948.5V1942.0 M2292.0,1071.2V1077.7 M2292.0,1948.5V1942.0 M2326.8,1071.2V1077.7 M2326.8,1948.5V1942.0 M2361.7,1071.2V1083.7 M2361.7,1948.5V1936.0 M1454.1,1915.4H1466.6 M2398.0,1915.4H2385.5 M1454.1,1874.8H1460.6 M2398.0,1874.8H2391.5 M1454.1,1834.2H1460.6 M2398.0,1834.2H2391.5 M1454.1,1793.5H1460.6 M2398.0,1793.5H2391.5 M1454.1,1752.9H1466.6 M2398.0,1752.9H2385.5 M1454.1,1712.3H1460.6 M2398.0,1712.3H2391.5 M1454.1,1671.7H1460.6 M2398.0,1671.7H2391.5 M1454.1,1631.1H1460.6 M2398.0,1631.1H2391.5 M1454.1,1590.4H1466.6 M2398.0,1590.4H2385.5 M1454.1,1549.8H1460.6 M2398.0,1549.8H2391.5 M1454.1,1509.2H1460.6 M2398.0,1509.2H2391.5 M1454.1,1468.6H1460.6 M2398.0,1468.6H2391.5 M1454.1,1428.0H1466.6 M2398.0,1428.0H2385.5 M1454.1,1387.3H1460.6 M2398.0,1387.3H2391.5 M1454.1,1346.7H1460.6 M2398.0,1346.7H2391.5 M1454.1,1306.1H1460.6 M2398.0,1306.1H2391.5 M1454.1,1265.5H1466.6 M2398.0,1265.5H2385.5 M1454.1,1224.9H1460.6 M2398.0,1224.9H2391.5 M1454.1,1184.2H1460.6 M2398.0,1184.2H2391.5 M1454.1,1143.6H1460.6 M2398.0,1143.6H2391.5 M1454.1,1103.0H1466.6 M2398.0,1103.0H2385.5" stroke="#000" stroke-width="4" fill="none"/>
<text transform="translate(1490.0,2021.3) scale(1,1.025)" class="t" text-anchor="middle">20</text>
<text transform="translate(1664.4,2021.3) scale(1,1.025)" class="t" text-anchor="middle">25</text>
<text transform="translate(1838.7,2021.3) scale(1,1.025)" class="t" text-anchor="middle">30</text>
<text transform="translate(2013.0,2021.3) scale(1,1.025)" class="t" text-anchor="middle">35</text>
<text transform="translate(2187.4,2021.3) scale(1,1.025)" class="t" text-anchor="middle">40</text>
<text transform="translate(2361.7,2021.3) scale(1,1.025)" class="t" text-anchor="middle">45</text>
<text transform="translate(1427.5,1934.2) scale(1,1.025)" class="t" text-anchor="end">0</text>
<text transform="translate(1427.5,1771.7) scale(1,1.025)" class="t" text-anchor="end">20</text>
<text transform="translate(1427.5,1609.2) scale(1,1.025)" class="t" text-anchor="end">40</text>
<text transform="translate(1427.5,1446.8) scale(1,1.025)" class="t" text-anchor="end">60</text>
<text transform="translate(1427.5,1284.3) scale(1,1.025)" class="t" text-anchor="end">80</text>
<text transform="translate(1427.5,1121.8) scale(1,1.025)" class="t" text-anchor="end">100</text>
<path d="M1346.76,1117.57 H1356.65 V1123.00 H1346.76 Z M1361.07,1117.57 H1370.57 V1123.00 H1361.07 Z" fill="#fff"/>
<text x="1487.6" y="1131.3" class="t">(d)</text>
<text transform="translate(1818.4,1174.9) scale(1,1.040)" class="ti" font-style="italic">T</text>
<text transform="translate(1865.1,1186.8) scale(1,1.040)" class="sub">growth</text>
<text transform="translate(2022.2,1179.2) scale(1,0.920)" class="eq">=</text>
<text transform="translate(2075.8,1174.8) scale(1,1.025)" class="ti">23.8</text>
<text x="2229.5" y="1174.6" class="par">(</text>
<text x="2259.6" y="1172.3" class="deg">&#176;</text>
<text transform="translate(2286.9,1174.8) scale(1,1.040)" class="ti">C</text>
<text x="2336.1" y="1174.6" class="par">)</text>
<path d="M370.3,2695.7 C386.9,2699.9 438.4,2712.9 470.0,2720.8 C501.6,2728.7 518.3,2731.3 560.0,2742.9 C601.7,2754.5 670.0,2773.5 720.0,2790.4 C770.0,2807.3 813.5,2829.9 860.0,2844.5 C906.5,2859.1 975.8,2872.4 999.0,2878.0 L999.0,2915.7 C975.8,2907.9 906.5,2885.1 860.0,2868.7 C813.5,2852.3 763.0,2832.0 720.0,2817.5 C677.0,2803.0 630.4,2789.7 602.1,2781.7 C573.8,2773.7 566.1,2772.1 550.0,2769.7 C533.9,2767.3 518.6,2767.0 505.3,2767.2 C492.0,2767.4 486.1,2767.9 470.0,2770.7 C453.9,2773.5 425.0,2779.8 408.4,2784.1 C391.8,2788.3 376.6,2794.2 370.3,2796.2Z" fill="#e8e8e8"/>
<clipPath id="cpe"><rect x="370.30" y="0" width="628.70" height="3244"/></clipPath>
<g clip-path="url(#cpe)">
<path d="M362.3,2721.5 L371.6,2722.3 L381.0,2723.3 L390.3,2724.3 L399.7,2725.4 L409.0,2726.7 L418.4,2728.0 L427.7,2729.4 L437.0,2730.9 L446.4,2732.5 L455.7,2734.1 L465.1,2735.9 L474.4,2737.7 L483.8,2739.6 L493.1,2741.6 L502.5,2743.7 L511.8,2745.8 L521.1,2748.0 L530.5,2750.3 L539.8,2752.7 L549.2,2755.1 L558.5,2757.5 L567.9,2760.1 L577.2,2762.7 L586.5,2765.3 L595.9,2768.0 L605.2,2770.7 L614.6,2773.5 L623.9,2776.3 L633.3,2779.2 L642.6,2782.1 L651.9,2785.0 L661.3,2788.0 L670.6,2791.0 L680.0,2794.0 L689.3,2797.1 L698.7,2800.1 L708.0,2803.2 L717.4,2806.3 L726.7,2809.4 L736.0,2812.6 L745.4,2815.7 L754.7,2818.8 L764.1,2822.0 L773.4,2825.1 L782.8,2828.3 L792.1,2831.4 L801.4,2834.6 L810.8,2837.7 L820.1,2840.8 L829.5,2843.9 L838.8,2847.0 L848.2,2850.1 L857.5,2853.1 L866.8,2856.1 L876.2,2859.2 L885.5,2862.1 L894.9,2865.1 L904.2,2868.0 L913.6,2870.9 L922.9,2873.8 L932.3,2876.7 L941.6,2879.5 L950.9,2882.2 L960.3,2885.0 L969.6,2887.7 L979.0,2890.4 L988.3,2893.0 L997.7,2895.6 L1007.0,2898.1" fill="none" stroke="#fff" stroke-width="13.1" stroke-linejoin="round"/>
<path d="M362.3,2721.5 L371.6,2722.3 L381.0,2723.3 L390.3,2724.3 L399.7,2725.4 L409.0,2726.7 L418.4,2728.0 L427.7,2729.4 L437.0,2730.9 L446.4,2732.5 L455.7,2734.1 L465.1,2735.9 L474.4,2737.7 L483.8,2739.6 L493.1,2741.6 L502.5,2743.7 L511.8,2745.8 L521.1,2748.0 L530.5,2750.3 L539.8,2752.7 L549.2,2755.1 L558.5,2757.5 L567.9,2760.1 L577.2,2762.7 L586.5,2765.3 L595.9,2768.0 L605.2,2770.7 L614.6,2773.5 L623.9,2776.3 L633.3,2779.2 L642.6,2782.1 L651.9,2785.0 L661.3,2788.0 L670.6,2791.0 L680.0,2794.0 L689.3,2797.1 L698.7,2800.1 L708.0,2803.2 L717.4,2806.3 L726.7,2809.4 L736.0,2812.6 L745.4,2815.7 L754.7,2818.8 L764.1,2822.0 L773.4,2825.1 L782.8,2828.3 L792.1,2831.4 L801.4,2834.6 L810.8,2837.7 L820.1,2840.8 L829.5,2843.9 L838.8,2847.0 L848.2,2850.1 L857.5,2853.1 L866.8,2856.1 L876.2,2859.2 L885.5,2862.1 L894.9,2865.1 L904.2,2868.0 L913.6,2870.9 L922.9,2873.8 L932.3,2876.7 L941.6,2879.5 L950.9,2882.2 L960.3,2885.0 L969.6,2887.7 L979.0,2890.4 L988.3,2893.0 L997.7,2895.6 L1007.0,2898.1" fill="none" stroke="#696969" stroke-width="11.5" stroke-linejoin="round"/>
</g>
<path d="M370.30,2716.40 A6.5,5.78 0 0 0 370.30,2727.95 Z" fill="#000"/>
<path d="M999.00,2889.98 A6.5,5.96 0 0 1 999.00,2901.91 Z" fill="#000"/>
<circle cx="369.8" cy="2729.7" r="20.1" fill="#fff" stroke="#000" stroke-width="4"/>
<circle cx="439.1" cy="2718.5" r="20.1" fill="#fff" stroke="#000" stroke-width="4"/>
<circle cx="509.6" cy="2659.4" r="20.1" fill="#fff" stroke="#000" stroke-width="4"/>
<circle cx="578.4" cy="2812.3" r="20.1" fill="#fff" stroke="#000" stroke-width="4"/>
<circle cx="648.9" cy="2793.1" r="20.1" fill="#fff" stroke="#000" stroke-width="4"/>
<circle cx="719.3" cy="2860.9" r="20.1" fill="#fff" stroke="#000" stroke-width="4"/>
<circle cx="789.0" cy="2809.6" r="20.1" fill="#fff" stroke="#000" stroke-width="4"/>
<circle cx="859.1" cy="2820.9" r="20.1" fill="#fff" stroke="#000" stroke-width="4"/>
<circle cx="928.4" cy="2852.5" r="20.1" fill="#fff" stroke="#000" stroke-width="4"/>
<rect x="266.0" y="2139.4" width="942.0" height="877.3" fill="none" stroke="#000" stroke-width="4"/>
<path d="M300.5,2139.4V2151.9 M300.5,3016.7V3004.2 M335.4,2139.4V2145.9 M335.4,3016.7V3010.2 M370.3,2139.4V2145.9 M370.3,3016.7V3010.2 M405.3,2139.4V2145.9 M405.3,3016.7V3010.2 M440.2,2139.4V2145.9 M440.2,3016.7V3010.2 M475.1,2139.4V2151.9 M475.1,3016.7V3004.2 M510.0,2139.4V2145.9 M510.0,3016.7V3010.2 M545.0,2139.4V2145.9 M545.0,3016.7V3010.2 M579.9,2139.4V2145.9 M579.9,3016.7V3010.2 M614.8,2139.4V2145.9 M614.8,3016.7V3010.2 M649.7,2139.4V2151.9 M649.7,3016.7V3004.2 M684.7,2139.4V2145.9 M684.7,3016.7V3010.2 M719.6,2139.4V2145.9 M719.6,3016.7V3010.2 M754.5,2139.4V2145.9 M754.5,3016.7V3010.2 M789.4,2139.4V2145.9 M789.4,3016.7V3010.2 M824.4,2139.4V2151.9 M824.4,3016.7V3004.2 M859.3,2139.4V2145.9 M859.3,3016.7V3010.2 M894.2,2139.4V2145.9 M894.2,3016.7V3010.2 M929.1,2139.4V2145.9 M929.1,3016.7V3010.2 M964.1,2139.4V2145.9 M964.1,3016.7V3010.2 M999.0,2139.4V2151.9 M999.0,3016.7V3004.2 M1033.9,2139.4V2145.9 M1033.9,3016.7V3010.2 M1068.8,2139.4V2145.9 M1068.8,3016.7V3010.2 M1103.8,2139.4V2145.9 M1103.8,3016.7V3010.2 M1138.7,2139.4V2145.9 M1138.7,3016.7V3010.2 M1173.6,2139.4V2151.9 M1173.6,3016.7V3004.2 M266.0,2984.8H278.5 M1208.0,2984.8H1195.5 M266.0,2944.2H272.5 M1208.0,2944.2H1201.5 M266.0,2903.6H272.5 M1208.0,2903.6H1201.5 M266.0,2862.9H272.5 M1208.0,2862.9H1201.5 M266.0,2822.3H278.5 M1208.0,2822.3H1195.5 M266.0,2781.7H272.5 M1208.0,2781.7H1201.5 M266.0,2741.1H272.5 M1208.0,2741.1H1201.5 M266.0,2700.4H272.5 M1208.0,2700.4H1201.5 M266.0,2659.8H278.5 M1208.0,2659.8H1195.5 M266.0,2619.2H272.5 M1208.0,2619.2H1201.5 M266.0,2578.6H272.5 M1208.0,2578.6H1201.5 M266.0,2538.0H272.5 M1208.0,2538.0H1201.5 M266.0,2497.3H278.5 M1208.0,2497.3H1195.5 M266.0,2456.7H272.5 M1208.0,2456.7H1201.5 M266.0,2416.1H272.5 M1208.0,2416.1H1201.5 M266.0,2375.5H272.5 M1208.0,2375.5H1201.5 M266.0,2334.8H278.5 M1208.0,2334.8H1195.5 M266.0,2294.2H272.5 M1208.0,2294.2H1201.5 M266.0,2253.6H272.5 M1208.0,2253.6H1201.5 M266.0,2213.0H272.5 M1208.0,2213.0H1201.5 M266.0,2172.3H278.5 M1208.0,2172.3H1195.5" stroke="#000" stroke-width="4" fill="none"/>
<text transform="translate(300.5,3089.5) scale(1,1.025)" class="t" text-anchor="middle">20</text>
<text transform="translate(475.1,3089.5) scale(1,1.025)" class="t" text-anchor="middle">25</text>
<text transform="translate(649.7,3089.5) scale(1,1.025)" class="t" text-anchor="middle">30</text>
<text transform="translate(824.4,3089.5) scale(1,1.025)" class="t" text-anchor="middle">35</text>
<text transform="translate(999.0,3089.5) scale(1,1.025)" class="t" text-anchor="middle">40</text>
<text transform="translate(1173.6,3089.5) scale(1,1.025)" class="t" text-anchor="middle">45</text>
<text transform="translate(237.5,3003.6) scale(1,1.025)" class="t" text-anchor="end">0</text>
<text transform="translate(237.5,2841.1) scale(1,1.025)" class="t" text-anchor="end">20</text>
<text transform="translate(237.5,2678.6) scale(1,1.025)" class="t" text-anchor="end">40</text>
<text transform="translate(237.5,2516.1) scale(1,1.025)" class="t" text-anchor="end">60</text>
<text transform="translate(237.5,2353.6) scale(1,1.025)" class="t" text-anchor="end">80</text>
<text transform="translate(237.5,2191.2) scale(1,1.025)" class="t" text-anchor="end">100</text>
<path d="M156.76,2186.92 H166.65 V2192.35 H156.76 Z M171.07,2186.92 H180.57 V2192.35 H171.07 Z" fill="#fff"/>
<text x="299.0" y="2199.9" class="t">(e)</text>
<text transform="translate(629.8,2243.9) scale(1,1.040)" class="ti" font-style="italic">T</text>
<text transform="translate(676.5,2255.8) scale(1,1.040)" class="sub">growth</text>
<text transform="translate(833.6,2248.2) scale(1,0.920)" class="eq">=</text>
<text transform="translate(887.1,2243.8) scale(1,1.025)" class="ti">22.9</text>
<text x="1040.9" y="2243.6" class="par">(</text>
<text x="1071.0" y="2241.3" class="deg">&#176;</text>
<text transform="translate(1098.3,2243.8) scale(1,1.040)" class="ti">C</text>
<text x="1147.5" y="2243.6" class="par">)</text>
<path d="M1558.5,2686.3 C1566.2,2688.4 1589.8,2694.8 1605.0,2698.9 C1620.2,2703.0 1624.2,2703.2 1650.0,2710.7 C1675.8,2718.1 1725.0,2733.0 1760.0,2743.6 C1795.0,2754.2 1830.0,2765.2 1860.0,2774.4 C1890.0,2783.6 1911.7,2789.6 1940.0,2799.0 C1968.3,2808.4 2001.7,2821.8 2030.0,2831.1 C2058.3,2840.4 2083.8,2847.9 2110.0,2854.9 C2136.2,2861.9 2174.2,2869.8 2187.0,2872.8 L2187.0,2919.3 C2174.2,2914.8 2136.2,2900.7 2110.0,2892.2 C2083.8,2883.7 2058.3,2877.8 2030.0,2868.4 C2001.7,2859.0 1961.7,2843.5 1940.0,2835.9 C1918.3,2828.3 1913.8,2827.6 1900.0,2822.7 C1886.2,2817.8 1870.3,2808.8 1857.0,2806.3 C1843.7,2803.8 1831.2,2806.6 1820.0,2807.5 C1808.8,2808.4 1802.8,2808.9 1790.0,2811.8 C1777.2,2814.7 1758.0,2819.8 1743.0,2825.1 C1728.0,2830.4 1714.5,2837.4 1700.0,2843.8 C1685.5,2850.2 1679.5,2852.3 1655.9,2863.5 C1632.3,2874.7 1574.7,2903.0 1558.5,2910.9Z" fill="#e8e8e8"/>
<clipPath id="cpf"><rect x="1558.50" y="0" width="628.50" height="3244"/></clipPath>
<g clip-path="url(#cpf)">
<path d="M1550.5,2724.3 L1559.8,2725.2 L1569.2,2726.2 L1578.5,2727.3 L1587.9,2728.5 L1597.2,2729.7 L1606.5,2731.1 L1615.9,2732.5 L1625.2,2734.0 L1634.6,2735.7 L1643.9,2737.3 L1653.2,2739.1 L1662.6,2740.9 L1671.9,2742.9 L1681.3,2744.8 L1690.6,2746.9 L1699.9,2749.0 L1709.3,2751.2 L1718.6,2753.5 L1728.0,2755.8 L1737.3,2758.2 L1746.7,2760.6 L1756.0,2763.1 L1765.3,2765.7 L1774.7,2768.3 L1784.0,2770.9 L1793.4,2773.6 L1802.7,2776.3 L1812.0,2779.1 L1821.4,2781.9 L1830.7,2784.8 L1840.1,2787.6 L1849.4,2790.5 L1858.7,2793.5 L1868.1,2796.4 L1877.4,2799.4 L1886.8,2802.4 L1896.1,2805.4 L1905.4,2808.5 L1914.8,2811.5 L1924.1,2814.6 L1933.5,2817.6 L1942.8,2820.7 L1952.1,2823.8 L1961.5,2826.8 L1970.8,2829.9 L1980.2,2833.0 L1989.5,2836.0 L1998.8,2839.1 L2008.2,2842.1 L2017.5,2845.2 L2026.9,2848.2 L2036.2,2851.2 L2045.6,2854.1 L2054.9,2857.1 L2064.2,2860.0 L2073.6,2863.0 L2082.9,2865.9 L2092.3,2868.7 L2101.6,2871.6 L2110.9,2874.4 L2120.3,2877.2 L2129.6,2879.9 L2139.0,2882.6 L2148.3,2885.3 L2157.6,2887.9 L2167.0,2890.6 L2176.3,2893.1 L2185.7,2895.7 L2195.0,2898.2" fill="none" stroke="#fff" stroke-width="13.1" stroke-linejoin="round"/>
<path d="M1550.5,2724.3 L1559.8,2725.2 L1569.2,2726.2 L1578.5,2727.3 L1587.9,2728.5 L1597.2,2729.7 L1606.5,2731.1 L1615.9,2732.5 L1625.2,2734.0 L1634.6,2735.7 L1643.9,2737.3 L1653.2,2739.1 L1662.6,2740.9 L1671.9,2742.9 L1681.3,2744.8 L1690.6,2746.9 L1699.9,2749.0 L1709.3,2751.2 L1718.6,2753.5 L1728.0,2755.8 L1737.3,2758.2 L1746.7,2760.6 L1756.0,2763.1 L1765.3,2765.7 L1774.7,2768.3 L1784.0,2770.9 L1793.4,2773.6 L1802.7,2776.3 L1812.0,2779.1 L1821.4,2781.9 L1830.7,2784.8 L1840.1,2787.6 L1849.4,2790.5 L1858.7,2793.5 L1868.1,2796.4 L1877.4,2799.4 L1886.8,2802.4 L1896.1,2805.4 L1905.4,2808.5 L1914.8,2811.5 L1924.1,2814.6 L1933.5,2817.6 L1942.8,2820.7 L1952.1,2823.8 L1961.5,2826.8 L1970.8,2829.9 L1980.2,2833.0 L1989.5,2836.0 L1998.8,2839.1 L2008.2,2842.1 L2017.5,2845.2 L2026.9,2848.2 L2036.2,2851.2 L2045.6,2854.1 L2054.9,2857.1 L2064.2,2860.0 L2073.6,2863.0 L2082.9,2865.9 L2092.3,2868.7 L2101.6,2871.6 L2110.9,2874.4 L2120.3,2877.2 L2129.6,2879.9 L2139.0,2882.6 L2148.3,2885.3 L2157.6,2887.9 L2167.0,2890.6 L2176.3,2893.1 L2185.7,2895.7 L2195.0,2898.2" fill="none" stroke="#696969" stroke-width="11.5" stroke-linejoin="round"/>
</g>
<path d="M1558.50,2719.29 A6.5,5.78 0 0 0 1558.50,2730.85 Z" fill="#000"/>
<path d="M2187.00,2890.07 A6.5,5.95 0 0 1 2187.00,2901.98 Z" fill="#000"/>
<path d="M1697.7,2611.2 V2651.0 M1679.7,2611.2 H1715.7 M1679.7,2651.0 H1715.7" stroke="#000" stroke-width="3.2" fill="none"/>
<path d="M1768.1,2802.2 V2849.5 M1750.1,2802.2 H1786.1 M1750.1,2849.5 H1786.1" stroke="#000" stroke-width="3.2" fill="none"/>
<circle cx="1558.5" cy="2740.7" r="20.1" fill="#fff" stroke="#000" stroke-width="4"/>
<circle cx="1628.6" cy="2697.8" r="20.1" fill="#fff" stroke="#000" stroke-width="4"/>
<circle cx="1697.7" cy="2630.1" r="20.1" fill="#fff" stroke="#000" stroke-width="4"/>
<circle cx="1768.1" cy="2825.0" r="20.1" fill="#fff" stroke="#000" stroke-width="4"/>
<circle cx="1837.5" cy="2787.4" r="20.1" fill="#fff" stroke="#000" stroke-width="4"/>
<circle cx="1907.9" cy="2906.7" r="20.1" fill="#fff" stroke="#000" stroke-width="4"/>
<circle cx="1977.0" cy="2797.3" r="20.1" fill="#fff" stroke="#000" stroke-width="4"/>
<circle cx="2047.4" cy="2801.2" r="20.1" fill="#fff" stroke="#000" stroke-width="4"/>
<rect x="1454.1" y="2139.4" width="943.9" height="877.3" fill="none" stroke="#000" stroke-width="4"/>
<path d="M1490.0,2139.4V2151.9 M1490.0,3016.7V3004.2 M1524.9,2139.4V2145.9 M1524.9,3016.7V3010.2 M1559.8,2139.4V2145.9 M1559.8,3016.7V3010.2 M1594.6,2139.4V2145.9 M1594.6,3016.7V3010.2 M1629.5,2139.4V2145.9 M1629.5,3016.7V3010.2 M1664.4,2139.4V2151.9 M1664.4,3016.7V3004.2 M1699.2,2139.4V2145.9 M1699.2,3016.7V3010.2 M1734.1,2139.4V2145.9 M1734.1,3016.7V3010.2 M1769.0,2139.4V2145.9 M1769.0,3016.7V3010.2 M1803.8,2139.4V2145.9 M1803.8,3016.7V3010.2 M1838.7,2139.4V2151.9 M1838.7,3016.7V3004.2 M1873.6,2139.4V2145.9 M1873.6,3016.7V3010.2 M1908.4,2139.4V2145.9 M1908.4,3016.7V3010.2 M1943.3,2139.4V2145.9 M1943.3,3016.7V3010.2 M1978.2,2139.4V2145.9 M1978.2,3016.7V3010.2 M2013.0,2139.4V2151.9 M2013.0,3016.7V3004.2 M2047.9,2139.4V2145.9 M2047.9,3016.7V3010.2 M2082.8,2139.4V2145.9 M2082.8,3016.7V3010.2 M2117.6,2139.4V2145.9 M2117.6,3016.7V3010.2 M2152.5,2139.4V2145.9 M2152.5,3016.7V3010.2 M2187.4,2139.4V2151.9 M2187.4,3016.7V3004.2 M2222.2,2139.4V2145.9 M2222.2,3016.7V3010.2 M2257.1,2139.4V2145.9 M2257.1,3016.7V3010.2 M2292.0,2139.4V2145.9 M2292.0,3016.7V3010.2 M2326.8,2139.4V2145.9 M2326.8,3016.7V3010.2 M2361.7,2139.4V2151.9 M2361.7,3016.7V3004.2 M1454.1,2984.8H1466.6 M2398.0,2984.8H2385.5 M1454.1,2944.2H1460.6 M2398.0,2944.2H2391.5 M1454.1,2903.6H1460.6 M2398.0,2903.6H2391.5 M1454.1,2862.9H1460.6 M2398.0,2862.9H2391.5 M1454.1,2822.3H1466.6 M2398.0,2822.3H2385.5 M1454.1,2781.7H1460.6 M2398.0,2781.7H2391.5 M1454.1,2741.1H1460.6 M2398.0,2741.1H2391.5 M1454.1,2700.4H1460.6 M2398.0,2700.4H2391.5 M1454.1,2659.8H1466.6 M2398.0,2659.8H2385.5 M1454.1,2619.2H1460.6 M2398.0,2619.2H2391.5 M1454.1,2578.6H1460.6 M2398.0,2578.6H2391.5 M1454.1,2538.0H1460.6 M2398.0,2538.0H2391.5 M1454.1,2497.3H1466.6 M2398.0,2497.3H2385.5 M1454.1,2456.7H1460.6 M2398.0,2456.7H2391.5 M1454.1,2416.1H1460.6 M2398.0,2416.1H2391.5 M1454.1,2375.5H1460.6 M2398.0,2375.5H2391.5 M1454.1,2334.8H1466.6 M2398.0,2334.8H2385.5 M1454.1,2294.2H1460.6 M2398.0,2294.2H2391.5 M1454.1,2253.6H1460.6 M2398.0,2253.6H2391.5 M1454.1,2213.0H1460.6 M2398.0,2213.0H2391.5 M1454.1,2172.3H1466.6 M2398.0,2172.3H2385.5" stroke="#000" stroke-width="4" fill="none"/>
<text transform="translate(1490.0,3089.5) scale(1,1.025)" class="t" text-anchor="middle">20</text>
<text transform="translate(1664.4,3089.5) scale(1,1.025)" class="t" text-anchor="middle">25</text>
<text transform="translate(1838.7,3089.5) scale(1,1.025)" class="t" text-anchor="middle">30</text>
<text transform="translate(2013.0,3089.5) scale(1,1.025)" class="t" text-anchor="middle">35</text>
<text transform="translate(2187.4,3089.5) scale(1,1.025)" class="t" text-anchor="middle">40</text>
<text transform="translate(2361.7,3089.5) scale(1,1.025)" class="t" text-anchor="middle">45</text>
<text transform="translate(1427.5,3003.6) scale(1,1.025)" class="t" text-anchor="end">0</text>
<text transform="translate(1427.5,2841.1) scale(1,1.025)" class="t" text-anchor="end">20</text>
<text transform="translate(1427.5,2678.6) scale(1,1.025)" class="t" text-anchor="end">40</text>
<text transform="translate(1427.5,2516.1) scale(1,1.025)" class="t" text-anchor="end">60</text>
<text transform="translate(1427.5,2353.6) scale(1,1.025)" class="t" text-anchor="end">80</text>
<text transform="translate(1427.5,2191.2) scale(1,1.025)" class="t" text-anchor="end">100</text>
<path d="M1346.76,2186.92 H1356.65 V2192.35 H1346.76 Z M1361.07,2186.92 H1370.57 V2192.35 H1361.07 Z" fill="#fff"/>
<text x="1487.6" y="2199.9" class="t">(f)</text>
<text transform="translate(1818.4,2243.9) scale(1,1.040)" class="ti" font-style="italic">T</text>
<text transform="translate(1865.1,2255.8) scale(1,1.040)" class="sub">growth</text>
<text transform="translate(2022.2,2248.2) scale(1,0.920)" class="eq">=</text>
<text transform="translate(2075.8,2243.8) scale(1,1.025)" class="ti">22.6</text>
<text x="2229.5" y="2243.6" class="par">(</text>
<text x="2259.6" y="2241.3" class="deg">&#176;</text>
<text transform="translate(2286.9,2243.8) scale(1,1.040)" class="ti">C</text>
<text x="2336.1" y="2243.6" class="par">)</text>
<text transform="translate(772.9,3224.7) scale(1,1.040)" class="ax">Incubation temperature</text>
<text x="1543.2" y="3223.0" class="axp">(</text>
<text x="1574.7" y="3223.0" class="axd">&#176;</text>
<text transform="translate(1602.8,3224.7) scale(1,1.040)" class="ax">C</text>
<text x="1657.1" y="3223.0" class="axp">)</text>
<g transform="translate(65,1960.6) rotate(-90)">
<text transform="translate(0.0,0.0) scale(1,1.040)" class="ax">Pollen tube length</text>
<text x="602.9" y="-1.0" class="yp">(</text>
<text x="633.2" y="0.0" class="mu">&#956;</text>
<text transform="translate(674.2,0.0) scale(1,1.040)" class="ax">m</text>
<text x="733.4" y="-1.0" class="yp">)</text>
</g>
</svg></body></html>
